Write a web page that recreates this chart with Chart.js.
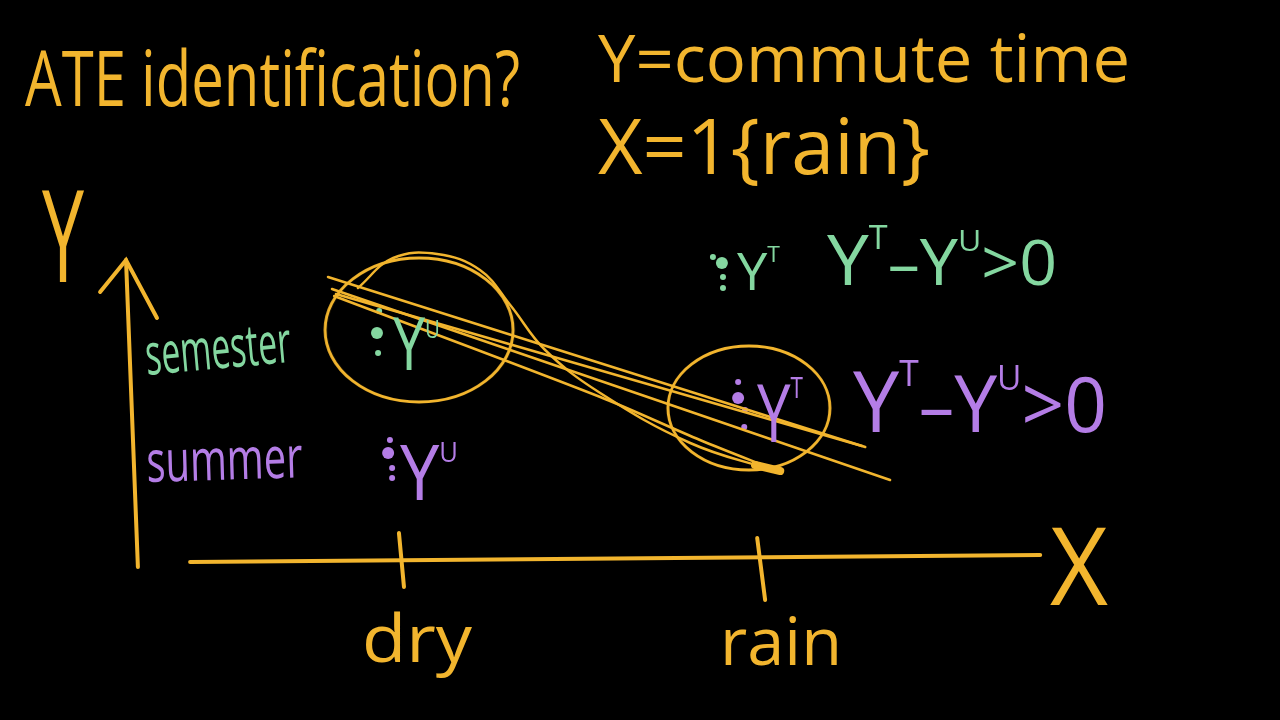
<!DOCTYPE html>
<html>
<head>
<meta charset="utf-8">
<title>ATE identification?</title>
<script src="https://cdn.jsdelivr.net/npm/chart.js@4.4.1/dist/chart.umd.min.js"></script>
<style>
  html, body { margin: 0; background: #000; }
  canvas { display: block; }
</style>
</head>
<body>
<canvas id="board" width="1280" height="720"></canvas>
<script>
// x: 0 = dry, 1 = rain   y: commute time (arbitrary units, 0 on the x axis)
const xTickValues = [0, 1];
const xTickLabels = ["dry", "rain"];

const xAxisLine = [{ x: -0.583, y: -0.07 }, { x: 1.778, y: 0 }];
const yAxisLine = [{ x: -0.728, y: -0.12 }, { x: -0.761, y: 2.95 }];
const yArrowHead = [{ x: -0.833, y: 2.63 }, { x: -0.761, y: 2.95 }, { x: -0.675, y: 2.37 }];
const dryTick = [{ x: -0.003, y: 0.22 }, { x: 0.011, y: -0.32 }];
const rainTick = [{ x: 0.992, y: 0.17 }, { x: 1.014, y: -0.45 }];

// the two circled groups
const dryLoop = [{ x: 0.053, y: 2.25 }];
const rainLoop = [{ x: 0.969, y: 1.47 }];

// strokes joining the circled groups
const stroke1 = [{ x: -0.2, y: 2.78 }, { x: 1.292, y: 1.08 }];
const stroke2 = [{ x: -0.189, y: 2.66 }, { x: 1.361, y: 0.75 }];
const stroke3 = [{ x: -0.178, y: 2.61 }, { x: 1.283, y: 1.09 }];
const stroke4 = [{ x: -0.183, y: 2.59 }, { x: 0.556, y: 1.58 }, { x: 0.833, y: 1.15 }, { x: 1.042, y: 0.85 }];
const curveStroke = [
  { x: -0.117, y: 2.67 }, { x: -0.019, y: 2.97 }, { x: 0.103, y: 3.01 }, { x: 0.222, y: 2.85 },
  { x: 0.306, y: 2.5 }, { x: 0.403, y: 2.05 }, { x: 0.556, y: 1.62 }, { x: 0.806, y: 1.12 },
  { x: 1.033, y: 0.85 }
];
const blob = [{ x: 0.986, y: 0.9 }, { x: 1.056, y: 0.84 }];

// dot clusters (first point is the big dot)
const semesterDry = [{ x: -0.064, y: 2.22 }, { x: -0.058, y: 2.44 }, { x: -0.061, y: 2.02 }];
const summerDry = [{ x: -0.033, y: 1.02 }, { x: -0.028, y: 1.15 }, { x: -0.022, y: 0.87 }, { x: -0.022, y: 0.77 }];
const summerRain = [{ x: 0.939, y: 1.57 }, { x: 0.939, y: 1.73 }, { x: 0.958, y: 1.45 }, { x: 0.956, y: 1.28 }];
const semesterRain = [{ x: 0.894, y: 2.92 }, { x: 0.869, y: 2.98 }, { x: 0.897, y: 2.78 }, { x: 0.897, y: 2.67 }];

const YELLOW = "#f2b52e";
const GREEN = "#84d7a0";
const PURPLE = "#b47de6";

function FONT(size) {
  return `400 ${size}px "Open Sans", "Lato", sans-serif`;
}

function makeLoop(rx, ry, color, lw) {
  const c = document.createElement("canvas");
  c.width = 2 * rx + 2 * lw;
  c.height = 2 * ry + 2 * lw;
  const g = c.getContext("2d");
  g.strokeStyle = color;
  g.lineWidth = lw;
  g.beginPath();
  g.ellipse(c.width / 2, c.height / 2, rx, ry, 0, 0, Math.PI * 2);
  g.stroke();
  return c;
}

function strokeSet(data, width, tension) {
  return {
    data: data,
    showLine: true,
    borderColor: YELLOW,
    borderWidth: width,
    pointRadius: 0,
    tension: tension || 0,
    borderCapStyle: "round",
    fill: false,
  };
}

function dotSet(data, color) {
  return {
    data: data,
    showLine: false,
    pointRadius: data.map((d, i) => (i === 0 ? 6 : 3)),
    pointBackgroundColor: color,
    pointBorderWidth: 0,
  };
}

// draw a row of text pieces, squeezed to the given width
function drawRuns(ctx, runs, left, baseline, width, color, angle) {
  ctx.save();
  let total = 0;
  const widths = runs.map((r) => {
    ctx.font = FONT(r.s);
    const w = ctx.measureText(r.t).width;
    total += w;
    return w;
  });
  ctx.translate(left, baseline);
  if (angle) ctx.rotate(angle);
  ctx.scale(width / total, 1);
  ctx.fillStyle = color;
  ctx.textBaseline = "alphabetic";
  let x = 0;
  runs.forEach((r, i) => {
    ctx.font = FONT(r.s);
    ctx.fillText(r.t, x, r.dy || 0);
    x += widths[i];
  });
  ctx.restore();
}

const boardPlugin = {
  id: "board",
  beforeDraw(chart) {
    const ctx = chart.ctx;
    ctx.save();
    ctx.fillStyle = "#000";
    ctx.fillRect(0, 0, chart.width, chart.height);
    ctx.restore();
  },
  afterDraw(chart) {
    const ctx = chart.ctx;
    const xs = chart.scales.x;

    drawRuns(ctx, [{ t: "ATE identification?", s: 77 }], 25, 106, 495, YELLOW);
    drawRuns(ctx, [{ t: "Y=commute time", s: 66 }], 598, 82, 532, YELLOW);
    drawRuns(ctx, [{ t: "X=1{rain}", s: 76 }], 598, 174, 332, YELLOW);

    drawRuns(ctx, [{ t: "Y", s: 128 }], 42, 282, 42, YELLOW);
    drawRuns(ctx, [{ t: "X", s: 108 }], 1050, 605, 58, YELLOW);

    drawRuns(ctx, [{ t: xTickLabels[0], s: 66 }], xs.getPixelForValue(xTickValues[0]) - 38, 662, 110, YELLOW);
    drawRuns(ctx, [{ t: xTickLabels[1], s: 66 }], xs.getPixelForValue(xTickValues[1]) - 40, 665, 122, YELLOW);

    drawRuns(ctx, [{ t: "semester", s: 58 }], 147, 375, 146, GREEN, -0.09);
    drawRuns(ctx, [{ t: "summer", s: 58 }], 147, 482, 156, PURPLE, -0.03);

    drawRuns(ctx, [{ t: "Y", s: 73 }, { t: "U", s: 26, dy: -32 }], 393, 370, 47, GREEN);
    drawRuns(ctx, [{ t: "Y", s: 77 }, { t: "U", s: 28, dy: -38 }], 400, 500, 58, PURPLE);
    drawRuns(ctx, [{ t: "Y", s: 80 }, { t: "T", s: 30, dy: -44 }], 757, 442, 46, PURPLE);
    drawRuns(ctx, [{ t: "Y", s: 52 }, { t: "T", s: 22, dy: -28 }], 737, 290, 43, GREEN);

    drawRuns(ctx, [
      { t: "Y", s: 70 }, { t: "T", s: 32, dy: -36 }, { t: "–", s: 60 },
      { t: "Y", s: 64 }, { t: "U", s: 30, dy: -34 }, { t: ">0", s: 62 }
    ], 827, 285, 230, GREEN);
    drawRuns(ctx, [
      { t: "Y", s: 84 }, { t: "T", s: 36, dy: -46 }, { t: "–", s: 72 },
      { t: "Y", s: 78 }, { t: "U", s: 34, dy: -42 }, { t: ">0", s: 76 }
    ], 853, 432, 254, PURPLE);
  },
};

const ctx = document.getElementById("board");

new Chart(ctx, {
  type: "scatter",
  data: {
    datasets: [
      strokeSet(xAxisLine, 4),
      strokeSet(yAxisLine, 4),
      strokeSet(yArrowHead, 4),
      strokeSet(dryTick, 4),
      strokeSet(rainTick, 4),
      {
        data: dryLoop,
        pointStyle: makeLoop(94, 72, YELLOW, 3),
        pointRadius: 1,
      },
      {
        data: rainLoop,
        pointStyle: makeLoop(81, 62, YELLOW, 3),
        pointRadius: 1,
      },
      strokeSet(stroke1, 2.5),
      strokeSet(stroke2, 2.5),
      strokeSet(stroke3, 2.5),
      strokeSet(stroke4, 2.5, 0.3),
      strokeSet(curveStroke, 2.5, 0.4),
      strokeSet(blob, 8),
      dotSet(semesterDry, GREEN),
      dotSet(summerDry, PURPLE),
      dotSet(summerRain, PURPLE),
      dotSet(semesterRain, GREEN),
    ],
  },
  options: {
    responsive: false,
    animation: false,
    events: [],
    layout: { padding: 0, autoPadding: false },
    plugins: {
      legend: { display: false },
      tooltip: { enabled: false },
    },
    scales: {
      x: { type: "linear", display: false, min: -1.111, max: 2.444 },
      y: { type: "linear", display: false, min: -1.65, max: 5.55 },
    },
  },
  plugins: [boardPlugin],
});
</script>
</body>
</html>
